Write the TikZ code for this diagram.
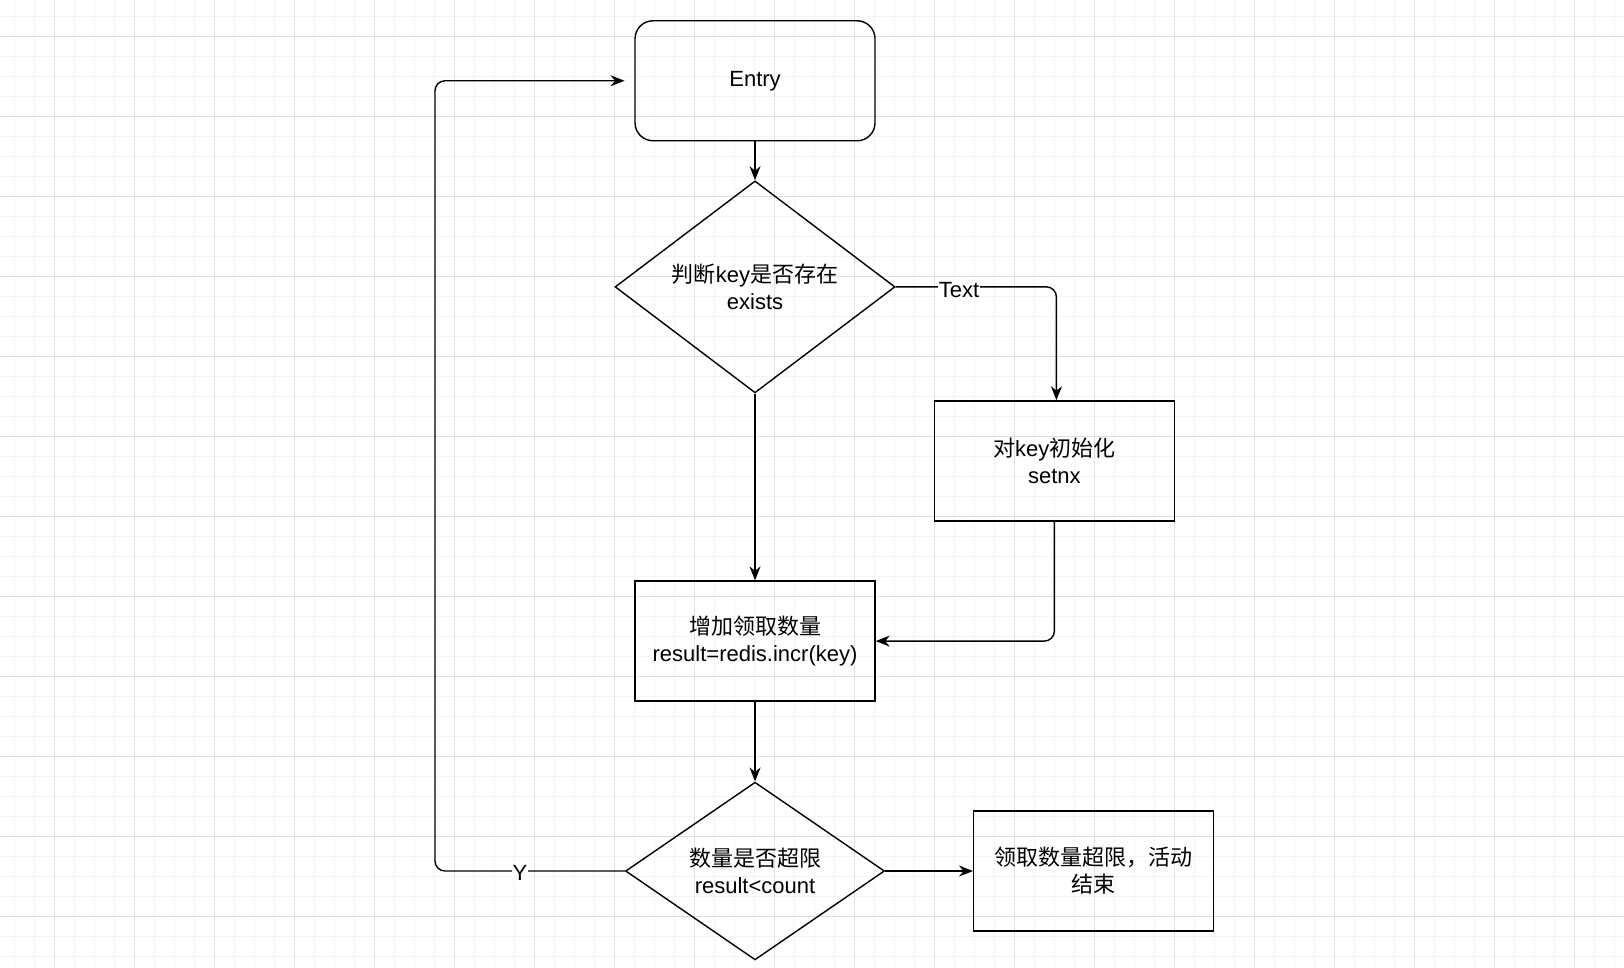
\documentclass[tikz,border=0pt]{standalone}
\usepackage{fontspec}
\setmainfont{Liberation Sans}
\newfontfamily\cjk{Noto Sans CJK SC}
\usetikzlibrary{shapes.geometric,arrows.meta}
\begin{document}
\begin{tikzpicture}[x=1pt,y=-1pt,
  box/.style={draw,line width=1.4pt,minimum width=240pt,minimum height=120pt,align=center,font=\fontsize{22}{27}\selectfont},
  dia/.style={draw,diamond,line width=1.4pt,inner sep=0pt,align=center,font=\fontsize{22}{27}\selectfont},
  arr/.style={line width=1.4pt,-{Stealth[length=14pt,width=11pt]},rounded corners=10pt},
  lab/.style={fill=white,inner sep=1pt,font=\fontsize{22}{26}\selectfont}]
\useasboundingbox (0,0) rectangle (1624,968);
\fill[white] (0,0) rectangle (1624,968);
\foreach \i in {0,...,81} \draw[gray!8,line width=1pt] (14.3+20*\i,0) -- (14.3+20*\i,968);
\foreach \i in {0,...,48} \draw[gray!8,line width=1pt] (0,16.3+20*\i) -- (1624,16.3+20*\i);
\foreach \i in {0,...,20} \draw[gray!25,line width=1pt] (54.3+80*\i,0) -- (54.3+80*\i,968);
\foreach \i in {0,...,12} \draw[gray!25,line width=1pt] (0,36.3+80*\i) -- (1624,36.3+80*\i);
\begin{scope}[x=1.0357pt,y=-1.0357pt]
\node[box,rounded corners=18pt] (entry) at (729,78) {Entry};
\node[dia,minimum width=280pt,minimum height=163pt] (d1) at (729,277) {{\cjk 判断}key{\cjk 是否存在}\\exists};
\node[box] (init) at (1018,445) {{\cjk 对}key{\cjk 初始化}\\setnx};
\node[box] (incr) at (729,619) {{\cjk 增加领取数量}\\result=redis.incr(key)};
\node[dia,minimum width=259pt,minimum height=139pt] (d2) at (729,841) {{\cjk 数量是否超限}\\result<count};
\node[box] (end) at (1056,841) {{\cjk 领取数量超限，活动}\\{\cjk 结束}};
\coordinate (lt) at (420,841);
\coordinate (lb) at (420,78);
\coordinate (tip) at (603,78);
\coordinate (c1) at (1020,277);
\coordinate (c2) at (1018,619);
\draw[arr] (entry) -- (d1);
\draw[arr] (d1) -- (incr);
\draw[arr] (incr) -- (d2);
\draw[arr] (d2) -- (end);
\draw[arr] (d1.east) -- (c1) -- (init.north -| c1);
\draw[arr] (init.south) -- (c2) -- (incr.east);
\draw[arr] (d2.west) -- (lt) -- (lb) -- (tip);
\node[lab] (t1) at (926,280) {Text};
\node[lab] (y1) at (502,843) {Y};
\end{scope}
\end{tikzpicture}
\end{document}
